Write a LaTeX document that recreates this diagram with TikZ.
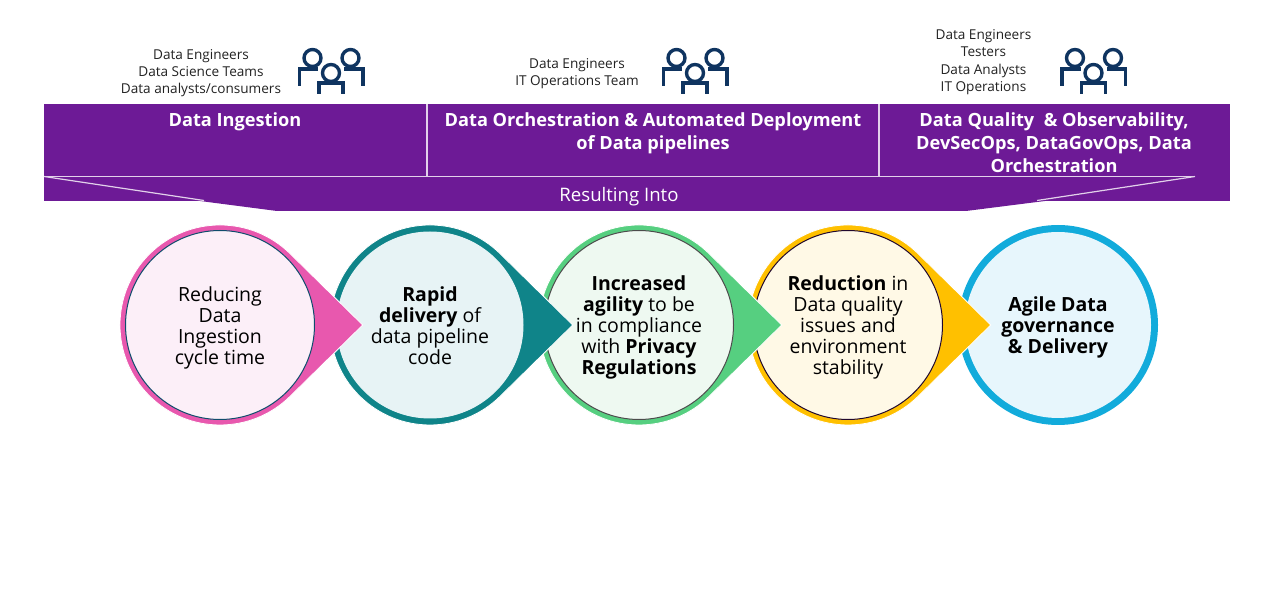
\documentclass[tikz,border=0pt]{standalone}
\usepackage{fontspec}
\setmainfont{Open Sans}
\definecolor{purp}{HTML}{6D1A96}
\definecolor{navy}{HTML}{0F3460}
\definecolor{txt}{HTML}{222222}
\definecolor{pinkc}{HTML}{E858AE}
\definecolor{tealc}{HTML}{0F8489}
\definecolor{greenc}{HTML}{56CF80}
\definecolor{yellowc}{HTML}{FFC000}
\definecolor{bluec}{HTML}{12ABDB}
\definecolor{pinkf}{HTML}{FCEFF8}
\definecolor{tealf}{HTML}{E7F3F5}
\definecolor{greenf}{HTML}{EEF9F1}
\definecolor{yellowf}{HTML}{FFF9E6}
\definecolor{bluef}{HTML}{E7F6FC}
\tikzset{
  x=1pt,y=-1pt,
  teamlabel/.style={align=center,text=txt,font=\fontsize{13.6}{17.3}\selectfont,inner sep=0pt},
  headlabel/.style={align=center,text=white,font=\fontsize{18.2}{23}\selectfont\bfseries,inner sep=0pt},
  circlabel/.style={align=center,text=black,font=\fontsize{19.5}{21}\selectfont,inner sep=0pt},
  band/.style={fill=purp,draw=none},
  rule/.style={draw=white!80!purp,line width=1.2pt},
  person/.style={draw=navy,line width=3.4pt,fill=none},
}
% #1 x of circle centre, #2 ring colour, #3 disc colour, #4 border colour
\newcommand{\dropshape}[5]{%
  \fill[#2,draw=white,line width=.8pt] (#1+70.7,325-70.7) -- (#1+142.7,325) -- (#1+70.7,325+70.7) arc[start angle=45,end angle=315,radius=100,y=1pt] -- cycle;
  \fill[#3,draw=#4,line width=1pt] (#1,325) circle[radius=#5];
}
% #1 x, #2 y of the top-left of the icon
\newcommand{\teamicon}[2]{%
  \begin{scope}[shift={(#1,#2)}]
    \draw[person] (15.5,10) circle[radius=8.5];
    \draw[person] (53.5,10) circle[radius=8.5];
    \draw[person] (34,25) circle[radius=8.5];
    \draw[person] (2.5,38) -- (2.5,21) -- (21,21);
    \draw[person] (66,38) -- (66,21) -- (47,21);
    \draw[person] (22,46) -- (22,35) -- (46,35) -- (46,46);
  \end{scope}
}
\begin{document}
\begin{tikzpicture}
\useasboundingbox (0,0) rectangle (1280,593);
% banner
\fill[band] (44,104) rectangle (1230,201);
\fill[band] (200,201) -- (277,211) -- (966,211) -- (1045,201) -- cycle;
\draw[rule] (44,176.500) -- (1195,176.500);
\draw[rule] (44,176.500) -- (204,200.500);
\draw[rule] (1195,176.500) -- (1037,200.500);
\draw[rule] (427,104) -- (427,176.500);
\draw[rule] (879,104) -- (879,176.500);
\node[headlabel] (h1) at (235,122) {Data Ingestion};
\node[headlabel] (h2) at (653,133.500) {Data Orchestration \& Automated Deployment\\of Data pipelines};
\node[headlabel] (h3) at (1054,142.500) {Data Quality~ \& Observability,\\DevSecOps, DataGovOps, Data\\Orchestration};
\node[text=white,inner sep=0pt,font=\fontsize{18.6}{21}\selectfont] (res) at (619,197) {Resulting Into};
% team labels
\node[teamlabel] (t1) at (201,73) {Data Engineers\\Data Science Teams\\Data analysts/consumers};
\node[teamlabel] (t2) at (577,73.500) {Data Engineers\\IT Operations Team};
\node[teamlabel] (t3) at (983.500,62) {Data Engineers\\Testers\\Data Analysts\\IT Operations};
\teamicon{297}{48}
\teamicon{661}{48}
\teamicon{1059.5}{48}
% circles, right to left so that each tip lies over its neighbour
\fill[bluec] (1058,325) circle[radius=100];
\fill[bluef] (1058,325) circle[radius=93];
\dropshape{848}{yellowc}{yellowf}{black!70!purp}{94.5}
\dropshape{639}{greenc}{greenf}{black!70}{94.5}
\dropshape{430}{tealc}{tealf}{tealf}{93}
\dropshape{220}{pinkc}{pinkf}{navy!70!tealc}{94.5}
\node[circlabel] (c1) at (220,327.500) {Reducing\\Data\\Ingestion\\cycle time};
\node[circlabel] (c2) at (430,325.500) {\textbf{Rapid}\\\textbf{delivery} of\\data pipeline\\code};
\node[circlabel] (c3) at (639,327.500) {\textbf{Increased}\\\textbf{agility} to be\\in compliance\\with \textbf{Privacy}\\\textbf{Regulations}};
\node[circlabel] (c4) at (848,327.500) {\textbf{Reduction} in\\Data quality\\issues and\\environment\\stability};
\node[circlabel] (c5) at (1058,327.500) {\textbf{Agile Data}\\\textbf{governance}\\\textbf{\& Delivery}};
\end{tikzpicture}
\end{document}
